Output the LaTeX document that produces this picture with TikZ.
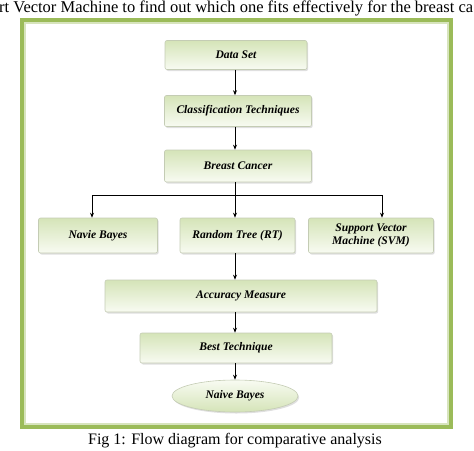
\documentclass[tikz,border=0pt]{standalone}
\usepackage{fontspec}
\setmainfont{Liberation Serif}
\usetikzlibrary{shapes.geometric,shadows,arrows.meta}
\definecolor{framegreen}{HTML}{9BBB59}
\definecolor{framelight}{HTML}{D7E4BD}
\definecolor{boxtop}{HTML}{D5E4B8}
\definecolor{boxbot}{HTML}{F8FBF2}
\definecolor{boxedge}{HTML}{C4CCB4}
\begin{document}
\begin{tikzpicture}[x=1pt,y=-1pt,
  stepbox/.style={draw=boxedge, line width=0.6pt, rounded corners=2pt,
    top color=boxtop, bottom color=boxbot,
    drop shadow={shadow xshift=1.2pt, shadow yshift=-1.5pt, fill=black!25},
    font=\fontsize{11.6}{12.5}\selectfont\bfseries\itshape, align=center, inner sep=0pt},
  endbox/.style={ellipse, draw=boxedge, line width=0.6pt,
    top color=boxbot, bottom color=boxtop,
    drop shadow={shadow xshift=1.2pt, shadow yshift=-1.5pt, fill=black!25},
    font=\fontsize{11.6}{12.5}\selectfont\bfseries\itshape, inner sep=0pt},
  link/.style={line width=0.7pt, -{Stealth[length=5pt,width=4pt]}},
  plain/.style={line width=0.7pt}]
\useasboundingbox (0,0) rectangle (474,450);
\begin{scope}
\clip (0,0) rectangle (474,450);
\node[anchor=base west, inner sep=0pt, font=\fontsize{16.5}{18}\selectfont] (toptext) at (-1,12) {rt Vector Machine to find out which one fits effectively for the breast ca};
\end{scope}
% frame
\draw[framegreen, line width=3.5pt] (22,20) rectangle (451,427);
\draw[framelight, line width=1.2pt] (25,23) rectangle (448,424);
% nodes
\node[stepbox, minimum width=142pt, minimum height=29pt] (ds) at (236,55) {Data Set};
\node[stepbox, minimum width=147pt, minimum height=31pt] (ct) at (238,111) {Classification Techniques};
\node[stepbox, minimum width=147pt, minimum height=32pt] (bc) at (238,166) {Breast Cancer};
\node[stepbox, minimum width=119pt, minimum height=35pt] (nb) at (98,235.5) {Navie Bayes};
\node[stepbox, minimum width=115pt, minimum height=35pt] (rt) at (237.5,235.5) {Random Tree (RT)};
\node[stepbox, minimum width=125pt, minimum height=35pt] (svm) at (371,235.5) {Support Vector\\[1pt]Machine (SVM)};
\node[stepbox, minimum width=272pt, minimum height=32pt] (am) at (241,296) {Accuracy Measure};
\node[stepbox, minimum width=192pt, minimum height=30pt] (bt) at (236,348) {Best Technique};
\node[endbox, minimum width=126pt, minimum height=32pt] (nv) at (235,396) {Naive Bayes};
% connectors
\coordinate (split) at (235,195);
\coordinate (sl) at (92,195);
\coordinate (sr) at (382,195);
\draw[link] (ds.south -| 235,0) -- (ct.north -| 235,0);
\draw[link] (ct.south -| 235,0) -- (bc.north -| 235,0);
\draw[plain] (bc.south -| 235,0) -- (split);
\draw[plain] (sl) -- (sr);
\draw[link] (sl) -- (nb.north -| sl);
\draw[link] (split) -- (rt.north -| split);
\draw[link] (sr) -- (svm.north -| sr);
\draw[link] (rt.south -| 235,0) -- (am.north -| 235,0);
\draw[link] (am.south -| 235,0) -- (bt.north -| 235,0);
\draw[link] (bt.south -| 235,0) -- (nv.north);
% caption
\node[anchor=base, inner sep=0pt, font=\fontsize{16}{18}\selectfont] (cap) at (235,444) {Fig 1: Flow diagram for comparative analysis};
\end{tikzpicture}
\end{document}
